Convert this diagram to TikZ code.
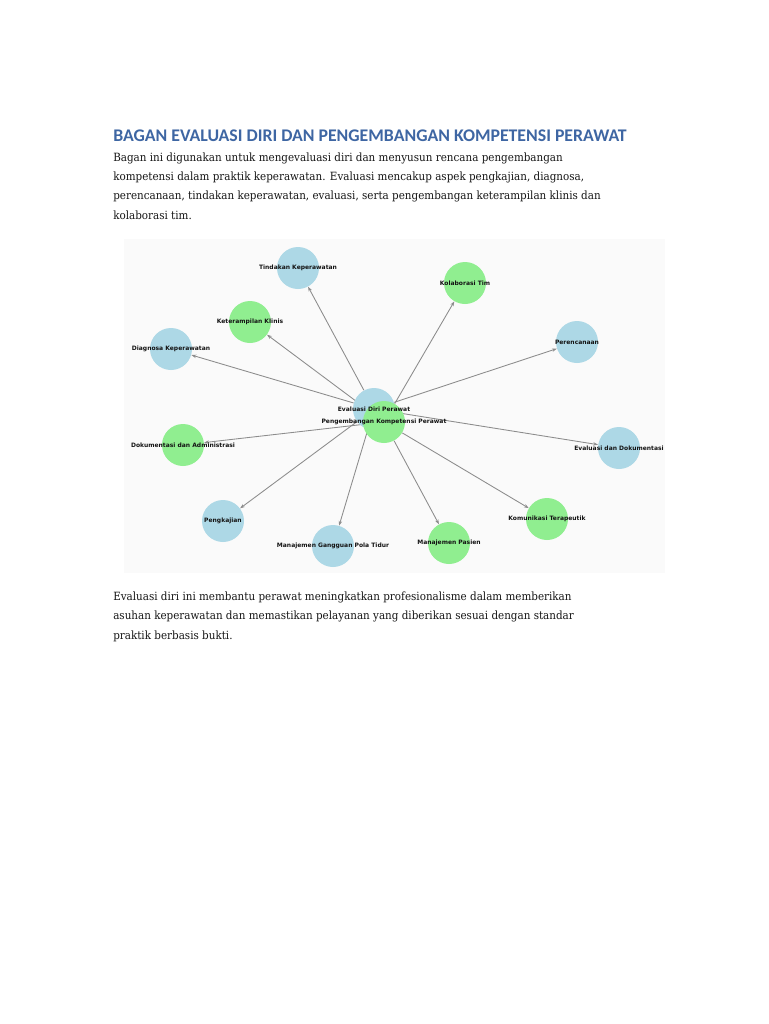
\documentclass[tikz,border=0pt]{standalone}
\usepackage{fontspec}
\usetikzlibrary{arrows.meta}
\newfontfamily\titlefont{Carlito}
\newfontfamily\bodyfont[FakeStretch=0.915]{DejaVu Serif}
\newfontfamily\lblfont{DejaVu Sans}
\definecolor{nblue}{HTML}{ADD8E6}
\definecolor{ngreen}{HTML}{90EE90}
\definecolor{ttl}{HTML}{3E66A3}
\definecolor{edgegray}{HTML}{8C8C8C}
\definecolor{panel}{HTML}{FAFAFA}
\definecolor{bodytext}{HTML}{161616}
\pgfdeclarelayer{bg}
\pgfdeclarelayer{edges}
\pgfdeclarelayer{top}
\pgfsetlayers{bg,edges,main,top}
\begin{document}
\begin{tikzpicture}[x=0.75pt,y=-0.75pt,
  bnode/.style={circle, fill=nblue, minimum size=31.5pt, inner sep=0pt, draw=none},
  gnode/.style={circle, fill=ngreen, minimum size=31.5pt, inner sep=0pt, draw=none},
  lbl/.style={font=\lblfont\bfseries\fontsize{4.5}{5}\selectfont, inner sep=0pt, text=black!92},
  link/.style={draw=edgegray, line width=0.65pt, -{Stealth[length=3.6pt,width=2.6pt]}},
  bodyline/.style={anchor=base west, inner sep=0pt, font=\bodyfont\fontsize{8.5}{9}\selectfont, text=bodytext},
  titleline/.style={anchor=base west, inner sep=0pt, font=\titlefont\bfseries\fontsize{13.33}{16}\selectfont, text=ttl}]
\useasboundingbox (0,0) rectangle (768,1024);
\begin{pgfonlayer}{bg}
\fill[white] (0,0) rectangle (768,1024);
\fill[panel] (124,239) rectangle (665,573);
\end{pgfonlayer}

% texts
\node[titleline] (title) at (113,142) {BAGAN EVALUASI DIRI DAN PENGEMBANGAN KOMPETENSI PERAWAT};
\node[bodyline] (pa) at (113,161) {Bagan ini digunakan untuk mengevaluasi diri dan menyusun rencana pengembangan};
\node[bodyline] (pb) at (113,180.3) {kompetensi dalam praktik keperawatan. Evaluasi mencakup aspek pengkajian, diagnosa,};
\node[bodyline] (pc) at (113,199.6) {perencanaan, tindakan keperawatan, evaluasi, serta pengembangan keterampilan klinis dan};
\node[bodyline] (pd) at (113,219) {kolaborasi tim.};
\node[bodyline] (qa) at (113,600.5) {Evaluasi diri ini membantu perawat meningkatkan profesionalisme dalam memberikan};
\node[bodyline] (qb) at (113,619.8) {asuhan keperawatan dan memastikan pelayanan yang diberikan sesuai dengan standar};
\node[bodyline] (qc) at (113,639) {praktik berbasis bukti.};

% graph nodes
\node[bnode] (c1) at (374,409) {};
\node[gnode] (c2) at (384,422) {};
\node[bnode] (tin) at (298,268) {};
\node[gnode] (ket) at (250,322) {};
\node[bnode] (dia) at (171,349) {};
\node[gnode] (kol) at (465,283) {};
\node[bnode] (per) at (577,342) {};
\node[gnode] (dok) at (183,445) {};
\node[bnode] (evd) at (619,448) {};
\node[bnode] (pgk) at (223,521) {};
\node[bnode] (mgp) at (333,546) {};
\node[gnode] (kom) at (547,519) {};
\node[gnode] (mps) at (449,543) {};

\begin{pgfonlayer}{edges}
\draw[link] (c1) -- (tin);
\draw[link] (c1) -- (dia);
\draw[link] (c1) -- (per);
\draw[link] (c1) -- (evd);
\draw[link] (c1) -- (pgk);
\draw[link] (c1) -- (mgp);
\draw[link] (c2) -- (ket);
\draw[link] (c2) -- (kol);
\draw[link] (c2) -- (dok);
\draw[link] (c2) -- (kom);
\draw[link] (c2) -- (mps);
\end{pgfonlayer}

\begin{pgfonlayer}{top}
\node[lbl] (lc1) at (c1) {Evaluasi Diri Perawat};
\node[lbl] (lc2) at (c2) {Pengembangan Kompetensi Perawat};
\node[lbl] (ltin) at (tin) {Tindakan Keperawatan};
\node[lbl] (lket) at (ket) {Keterampilan Klinis};
\node[lbl] (ldia) at (dia) {Diagnosa Keperawatan};
\node[lbl] (lkol) at (kol) {Kolaborasi Tim};
\node[lbl] (lper) at (per) {Perencanaan};
\node[lbl] (ldok) at (dok) {Dokumentasi dan Administrasi};
\node[lbl] (levd) at (evd) {Evaluasi dan Dokumentasi};
\node[lbl] (lpgk) at (pgk) {Pengkajian};
\node[lbl] (lmgp) at (mgp) {Manajemen Gangguan Pola Tidur};
\node[lbl] (lkom) at (kom) {Komunikasi Terapeutik};
\node[lbl] (lmps) at (mps) {Manajemen Pasien};
\end{pgfonlayer}
\end{tikzpicture}
\end{document}
